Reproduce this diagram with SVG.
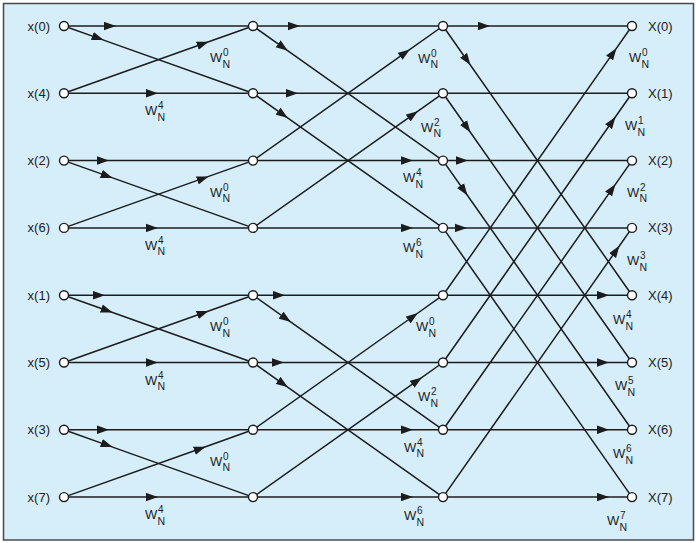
<svg xmlns="http://www.w3.org/2000/svg" width="696" height="543" viewBox="0 0 696 543">
<defs>
<style>
.c{fill:none;stroke:#1c1c1c;stroke-width:1.5}
.a{marker-mid:url(#ah)}
.n{fill:#fff;stroke:#1c1c1c;stroke-width:1.4}
.lb{font-family:"Liberation Sans",Arial,sans-serif;font-size:13px;fill:#1c1c1c}
.w{font-family:"Liberation Sans",Arial,sans-serif;font-size:13px;fill:#1c1c1c}
.sp{font-size:10px}
.sb{font-size:10.5px}
</style>
<marker id="ah" markerUnits="userSpaceOnUse" markerWidth="12" markerHeight="9" refX="6" refY="4.25" orient="auto" viewBox="0 0 12 8.5">
<path d="M0,0 L12,4.25 L0,8.5 z" fill="#1c1c1c"/>
</marker>
</defs>
<rect x="0" y="0" width="696" height="543" fill="#ffffff"/>
<rect x="3.5" y="3.5" width="690" height="536.5" fill="#d5eefa" stroke="#4a4a4a" stroke-width="1.5"/>

<g id="connectors">
<!-- stage 1 -->
<path class="c a" d="M64,26 L110,26 L253,26"/>
<path class="c a" d="M64,26 L98,38.1 L253,93.3"/>
<path class="c a" d="M64,93.3 L203,43.8 L253,26"/>
<path class="c a" d="M64,93.3 L152,93.3 L253,93.3"/>
<path class="c a" d="M64,160.6 L103,160.6 L253,160.6"/>
<path class="c a" d="M64,160.6 L107,175.9 L253,227.9"/>
<path class="c a" d="M64,227.9 L203,178.4 L253,160.6"/>
<path class="c a" d="M64,227.9 L152,227.9 L253,227.9"/>
<path class="c a" d="M64,295.2 L99,295.2 L253,295.2"/>
<path class="c a" d="M64,295.2 L107,310.5 L253,362.5"/>
<path class="c a" d="M64,362.5 L203,313 L253,295.2"/>
<path class="c a" d="M64,362.5 L152,362.5 L253,362.5"/>
<path class="c a" d="M64,429.8 L103,429.8 L253,429.8"/>
<path class="c a" d="M64,429.8 L107,445.1 L253,497.1"/>
<path class="c a" d="M64,497.1 L200,448.7 L253,429.8"/>
<path class="c a" d="M64,497.1 L152,497.1 L253,497.1"/>
<!-- stage 2 -->
<path class="c a" d="M253,26 L294,26 L443,26"/>
<path class="c a" d="M253,26 L283,47.3 L443,160.6"/>
<path class="c a" d="M253,160.6 L405,52.9 L443,26"/>
<path class="c a" d="M253,160.6 L407,160.6 L443,160.6"/>
<path class="c a" d="M253,93.3 L292,93.3 L443,93.3"/>
<path class="c a" d="M253,93.3 L283,114.6 L443,227.9"/>
<path class="c a" d="M253,227.9 L413,114.6 L443,93.3"/>
<path class="c a" d="M253,227.9 L407,227.9 L443,227.9"/>
<path class="c a" d="M253,295.2 L279,295.2 L443,295.2"/>
<path class="c a" d="M253,295.2 L286,318.6 L443,429.8"/>
<path class="c a" d="M253,429.8 L413,316.5 L443,295.2"/>
<path class="c a" d="M253,429.8 L407,429.8 L443,429.8"/>
<path class="c a" d="M253,362.5 L278,362.5 L443,362.5"/>
<path class="c a" d="M253,362.5 L283,383.8 L443,497.1"/>
<path class="c a" d="M253,497.1 L417,380.9 L443,362.5"/>
<path class="c a" d="M253,497.1 L407,497.1 L443,497.1"/>
<!-- stage 3 -->
<path class="c a" d="M443,26 L484,26 L632,26"/>
<path class="c a" d="M443,26 L467,60.2 L632,295.2"/>
<path class="c a" d="M443,295.2 L613,53.1 L632,26"/>
<path class="c a" d="M443,295.2 L603,295.2 L632,295.2"/>
<path class="c" d="M443,93.3 L632,93.3"/>
<path class="c a" d="M443,93.3 L467,127.5 L632,362.5"/>
<path class="c a" d="M443,362.5 L612,121.8 L632,93.3"/>
<path class="c a" d="M443,362.5 L603,362.5 L632,362.5"/>
<path class="c a" d="M443,160.6 L462,160.6 L632,160.6"/>
<path class="c a" d="M443,160.6 L464,190.5 L632,429.8"/>
<path class="c a" d="M443,429.8 L612,189.1 L632,160.6"/>
<path class="c a" d="M443,429.8 L603,429.8 L632,429.8"/>
<path class="c a" d="M443,227.9 L461,227.9 L632,227.9"/>
<path class="c" d="M443,227.9 L632,497.1"/>
<path class="c a" d="M443,497.1 L616,250.7 L632,227.9"/>
<path class="c a" d="M443,497.1 L603,497.1 L632,497.1"/>
</g>

<g id="weights">
<text class="w" x="210" y="62">W<tspan class="sp" x="223" y="56">0</tspan><tspan class="sb" x="222.5" y="67.5">N</tspan></text>
<text class="w" x="210" y="196.6">W<tspan class="sp" x="223" y="190.6">0</tspan><tspan class="sb" x="222.5" y="202.1">N</tspan></text>
<text class="w" x="210" y="331.2">W<tspan class="sp" x="223" y="325.2">0</tspan><tspan class="sb" x="222.5" y="336.7">N</tspan></text>
<text class="w" x="210" y="465.8">W<tspan class="sp" x="223" y="459.8">0</tspan><tspan class="sb" x="222.5" y="471.3">N</tspan></text>
<text class="w" x="145" y="115.3">W<tspan class="sp" x="158" y="109.3">4</tspan><tspan class="sb" x="157.5" y="120.8">N</tspan></text>
<text class="w" x="145" y="249.9">W<tspan class="sp" x="158" y="243.9">4</tspan><tspan class="sb" x="157.5" y="255.4">N</tspan></text>
<text class="w" x="145" y="384.5">W<tspan class="sp" x="158" y="378.5">4</tspan><tspan class="sb" x="157.5" y="390">N</tspan></text>
<text class="w" x="145" y="519.1">W<tspan class="sp" x="158" y="513.1">4</tspan><tspan class="sb" x="157.5" y="524.6">N</tspan></text>

<text class="w" x="418" y="62.5">W<tspan class="sp" x="431" y="56.5">0</tspan><tspan class="sb" x="430.5" y="68">N</tspan></text>
<text class="w" x="421" y="131.5">W<tspan class="sp" x="434" y="125.5">2</tspan><tspan class="sb" x="433.5" y="137">N</tspan></text>
<text class="w" x="403" y="182">W<tspan class="sp" x="416" y="176">4</tspan><tspan class="sb" x="415.5" y="187.5">N</tspan></text>
<text class="w" x="403" y="252">W<tspan class="sp" x="416" y="246">6</tspan><tspan class="sb" x="415.5" y="257.5">N</tspan></text>
<text class="w" x="416" y="331">W<tspan class="sp" x="429" y="325">0</tspan><tspan class="sb" x="428.5" y="336.5">N</tspan></text>
<text class="w" x="418" y="401">W<tspan class="sp" x="431" y="395">2</tspan><tspan class="sb" x="430.5" y="406.5">N</tspan></text>
<text class="w" x="404" y="451.5">W<tspan class="sp" x="417" y="445.5">4</tspan><tspan class="sb" x="416.5" y="457">N</tspan></text>
<text class="w" x="404" y="520">W<tspan class="sp" x="417" y="514">6</tspan><tspan class="sb" x="416.5" y="525.5">N</tspan></text>

<text class="w" x="629" y="62">W<tspan class="sp" x="642" y="56">0</tspan><tspan class="sb" x="641.5" y="67.5">N</tspan></text>
<text class="w" x="625" y="130">W<tspan class="sp" x="638" y="124">1</tspan><tspan class="sb" x="637.5" y="135.5">N</tspan></text>
<text class="w" x="627" y="196.5">W<tspan class="sp" x="640" y="190.5">2</tspan><tspan class="sb" x="639.5" y="202">N</tspan></text>
<text class="w" x="627" y="265">W<tspan class="sp" x="640" y="259">3</tspan><tspan class="sb" x="639.5" y="270.5">N</tspan></text>
<text class="w" x="613" y="324">W<tspan class="sp" x="626" y="318">4</tspan><tspan class="sb" x="625.5" y="329.5">N</tspan></text>
<text class="w" x="615" y="390">W<tspan class="sp" x="628" y="384">5</tspan><tspan class="sb" x="627.5" y="395.5">N</tspan></text>
<text class="w" x="613" y="458">W<tspan class="sp" x="626" y="452">6</tspan><tspan class="sb" x="625.5" y="463.5">N</tspan></text>
<text class="w" x="607" y="525">W<tspan class="sp" x="620" y="519">7</tspan><tspan class="sb" x="619.5" y="530.5">N</tspan></text>
</g>

<g id="in0"><circle class="n" cx="64" cy="26" r="4.5"/><text class="lb" x="50" y="30.5" text-anchor="end">x(0)</text></g>
<g id="in4"><circle class="n" cx="64" cy="93.3" r="4.5"/><text class="lb" x="50" y="97.8" text-anchor="end">x(4)</text></g>
<g id="in2"><circle class="n" cx="64" cy="160.6" r="4.5"/><text class="lb" x="50" y="165.1" text-anchor="end">x(2)</text></g>
<g id="in6"><circle class="n" cx="64" cy="227.9" r="4.5"/><text class="lb" x="50" y="232.4" text-anchor="end">x(6)</text></g>
<g id="in1"><circle class="n" cx="64" cy="295.2" r="4.5"/><text class="lb" x="50" y="299.7" text-anchor="end">x(1)</text></g>
<g id="in5"><circle class="n" cx="64" cy="362.5" r="4.5"/><text class="lb" x="50" y="367" text-anchor="end">x(5)</text></g>
<g id="in3"><circle class="n" cx="64" cy="429.8" r="4.5"/><text class="lb" x="50" y="434.3" text-anchor="end">x(3)</text></g>
<g id="in7"><circle class="n" cx="64" cy="497.1" r="4.5"/><text class="lb" x="50" y="501.6" text-anchor="end">x(7)</text></g>

<g id="s1n0"><circle class="n" cx="253" cy="26" r="4.5"/></g>
<g id="s1n1"><circle class="n" cx="253" cy="93.3" r="4.5"/></g>
<g id="s1n2"><circle class="n" cx="253" cy="160.6" r="4.5"/></g>
<g id="s1n3"><circle class="n" cx="253" cy="227.9" r="4.5"/></g>
<g id="s1n4"><circle class="n" cx="253" cy="295.2" r="4.5"/></g>
<g id="s1n5"><circle class="n" cx="253" cy="362.5" r="4.5"/></g>
<g id="s1n6"><circle class="n" cx="253" cy="429.8" r="4.5"/></g>
<g id="s1n7"><circle class="n" cx="253" cy="497.1" r="4.5"/></g>

<g id="s2n0"><circle class="n" cx="443" cy="26" r="4.5"/></g>
<g id="s2n1"><circle class="n" cx="443" cy="93.3" r="4.5"/></g>
<g id="s2n2"><circle class="n" cx="443" cy="160.6" r="4.5"/></g>
<g id="s2n3"><circle class="n" cx="443" cy="227.9" r="4.5"/></g>
<g id="s2n4"><circle class="n" cx="443" cy="295.2" r="4.5"/></g>
<g id="s2n5"><circle class="n" cx="443" cy="362.5" r="4.5"/></g>
<g id="s2n6"><circle class="n" cx="443" cy="429.8" r="4.5"/></g>
<g id="s2n7"><circle class="n" cx="443" cy="497.1" r="4.5"/></g>

<g id="out0"><circle class="n" cx="632" cy="26" r="4.5"/><text class="lb" x="648" y="30.5">X(0)</text></g>
<g id="out1"><circle class="n" cx="632" cy="93.3" r="4.5"/><text class="lb" x="648" y="97.8">X(1)</text></g>
<g id="out2"><circle class="n" cx="632" cy="160.6" r="4.5"/><text class="lb" x="648" y="165.1">X(2)</text></g>
<g id="out3"><circle class="n" cx="632" cy="227.9" r="4.5"/><text class="lb" x="648" y="232.4">X(3)</text></g>
<g id="out4"><circle class="n" cx="632" cy="295.2" r="4.5"/><text class="lb" x="648" y="299.7">X(4)</text></g>
<g id="out5"><circle class="n" cx="632" cy="362.5" r="4.5"/><text class="lb" x="648" y="367">X(5)</text></g>
<g id="out6"><circle class="n" cx="632" cy="429.8" r="4.5"/><text class="lb" x="648" y="434.3">X(6)</text></g>
<g id="out7"><circle class="n" cx="632" cy="497.1" r="4.5"/><text class="lb" x="648" y="501.6">X(7)</text></g>
</svg>
